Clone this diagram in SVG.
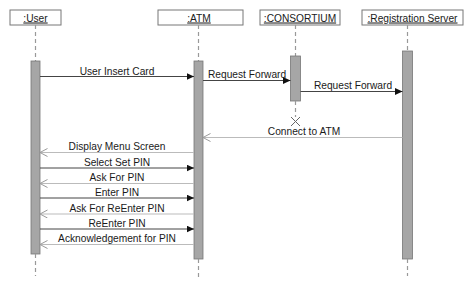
<svg xmlns="http://www.w3.org/2000/svg" width="474" height="300" viewBox="0 0 474 300">
<style>
text{font-family:"Liberation Sans",Arial,sans-serif;font-size:10.2px;fill:#1a1a1a}
.hd{text-decoration:underline}
.box{fill:#fff;stroke:#777;stroke-width:1}
.life{stroke:#999;stroke-width:1.2;stroke-dasharray:4 3}
.act{fill:#a6a6a6;stroke:#777;stroke-width:0.8}
.msg{stroke:#444;stroke-width:1;fill:none}
.ret{stroke:#bbb;stroke-width:1;fill:none}
</style>
<defs>
<marker id="sync" markerWidth="8" markerHeight="7" refX="7.5" refY="3.5" orient="auto" markerUnits="userSpaceOnUse">
<path d="M0,0 L7.5,3.5 L0,7 Z" fill="#111"/>
</marker>
<marker id="open" markerWidth="9" markerHeight="9" refX="7.5" refY="4" orient="auto" markerUnits="userSpaceOnUse">
<path d="M0,0 L7.5,4 L0,8" fill="none" stroke="#999" stroke-width="1"/>
</marker>
</defs>
<g id="user">
<rect class="box" x="10" y="10" width="51" height="15"/>
<text class="hd" x="35.5" y="21.5" text-anchor="middle">:User</text>
<line class="life" x1="35.5" y1="25" x2="35.5" y2="61"/>
<rect class="act" x="31" y="61" width="9" height="193"/>
<line class="life" x1="35.5" y1="254" x2="35.5" y2="276"/>
</g>
<g id="atm">
<rect class="box" x="158" y="10" width="85" height="15"/>
<text class="hd" x="199" y="21.5" text-anchor="middle">:ATM</text>
<line class="life" x1="198.5" y1="25" x2="198.5" y2="61"/>
<rect class="act" x="194" y="61" width="9" height="198"/>
<line class="life" x1="198.5" y1="259" x2="198.5" y2="280"/>
</g>
<g id="consortium">
<rect class="box" x="260" y="10" width="80" height="15"/>
<text class="hd" x="300" y="21.5" text-anchor="middle">:CONSORTIUM</text>
<line class="life" x1="295.5" y1="25" x2="295.5" y2="56"/>
<rect class="act" x="290.5" y="56" width="10" height="45"/>
<line class="life" x1="295.5" y1="101" x2="295.5" y2="117"/>
<path d="M291,117 L300,126 M300,117 L291,126" stroke="#666" stroke-width="1"/>
</g>
<g id="regserver">
<rect class="box" x="362" y="10" width="101" height="15"/>
<text class="hd" x="412.5" y="21.5" text-anchor="middle">:Registration Server</text>
<line class="life" x1="407.5" y1="25" x2="407.5" y2="51"/>
<rect class="act" x="402.5" y="51" width="10" height="208"/>
<line class="life" x1="407.5" y1="259" x2="407.5" y2="276"/>
</g>
<g id="connectors">
<line class="msg" x1="40" y1="76.5" x2="194" y2="76.5" marker-end="url(#sync)"/>
<text x="117" y="74.5" text-anchor="middle">User Insert Card</text>
<line class="msg" x1="203" y1="80.5" x2="290.5" y2="80.5" marker-end="url(#sync)"/>
<text x="208" y="77.5">Request Forward</text>
<line class="msg" x1="300.5" y1="91.5" x2="402.5" y2="91.5" marker-end="url(#sync)"/>
<text x="353" y="88.5" text-anchor="middle">Request Forward</text>
<line class="ret" x1="402.5" y1="137.5" x2="203" y2="137.5" marker-end="url(#open)"/>
<text x="304" y="135" text-anchor="middle">Connect to ATM</text>
<line class="ret" x1="194" y1="152.5" x2="40" y2="152.5" marker-end="url(#open)"/>
<text x="117" y="150" text-anchor="middle">Display Menu Screen</text>
<line class="msg" x1="40" y1="168" x2="194" y2="168" marker-end="url(#sync)"/>
<text x="117" y="165.5" text-anchor="middle">Select Set PIN</text>
<line class="ret" x1="194" y1="183.5" x2="40" y2="183.5" marker-end="url(#open)"/>
<text x="117" y="181" text-anchor="middle">Ask For PIN</text>
<line class="msg" x1="40" y1="198" x2="194" y2="198" marker-end="url(#sync)"/>
<text x="117" y="195.5" text-anchor="middle">Enter PIN</text>
<line class="ret" x1="194" y1="214" x2="40" y2="214" marker-end="url(#open)"/>
<text x="117" y="211.5" text-anchor="middle">Ask For ReEnter PIN</text>
<line class="msg" x1="40" y1="229" x2="194" y2="229" marker-end="url(#sync)"/>
<text x="117" y="226.5" text-anchor="middle">ReEnter PIN</text>
<line class="ret" x1="194" y1="244.5" x2="40" y2="244.5" marker-end="url(#open)"/>
<text x="117" y="242" text-anchor="middle">Acknowledgement for PIN</text>
</g>
</svg>
